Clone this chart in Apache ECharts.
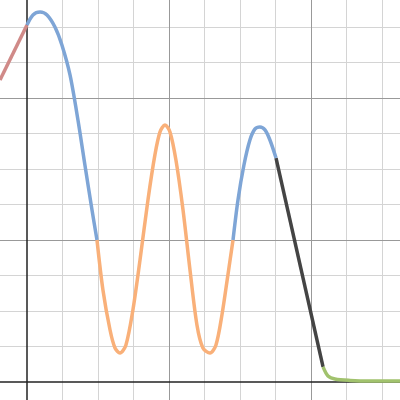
<!DOCTYPE html><html><head><meta charset="utf-8"><script src="https://cdn.jsdelivr.net/npm/echarts@6/dist/echarts.min.js"></script>
<style>html,body{margin:0;padding:0;background:#fff}#c{width:400px;height:400px}</style></head><body><div id="c"></div><script>
const redX=[-0.19,0],redY=[2.127,2.514];
const blue1X=[0,0.042,0.092,0.141,0.197,0.246,0.303,0.359,0.408,0.458,0.493];
const blue1Y=[2.514,2.585,2.606,2.585,2.500,2.373,2.162,1.845,1.528,1.211,1.0];
const orangeX=[0.493,0.535,0.585,0.620,0.655,0.697,0.746,0.796,0.852,0.901,0.937,0.972,1.007,1.049,1.099,1.148,1.197,1.239,1.289,1.331,1.373,1.415,1.451];
const orangeY=[1.0,0.648,0.366,0.239,0.204,0.261,0.507,0.859,1.282,1.599,1.761,1.810,1.761,1.563,1.211,0.789,0.401,0.239,0.204,0.261,0.472,0.754,1.0];
const blue2X=[1.451,1.486,1.528,1.570,1.606,1.641,1.676,1.711,1.754];
const blue2Y=[1.0,1.282,1.528,1.704,1.782,1.796,1.775,1.704,1.577];
const blackX=[1.754,2.085],blackY=[1.577,0.106];
const greenX=[2.085,2.120,2.169,2.275,2.415,2.627];
const greenY=[0.106,0.042,0.021,0.011,0.007,0.007];
const minorTicks=[-0.25,0.25,0.5,0.75,1.25,1.5,1.75,2.25,2.5,2.75];
const majorTicks=[1,2];
const zip=(a,b)=>a.map((v,i)=>[v,b[i]]);
function gridLines(){
  const d=[];
  const s=(c,w)=>({color:c,width:w,type:'solid'});
  minorTicks.forEach(v=>{d.push({xAxis:v,lineStyle:s('#d4d4d4',1)});d.push({yAxis:v,lineStyle:s('#d4d4d4',1)});});
  majorTicks.forEach(v=>{d.push({xAxis:v,lineStyle:s('#999',1)});d.push({yAxis:v,lineStyle:s('#999',1)});});
  d.push({xAxis:0,lineStyle:s('#222',1.5)});d.push({yAxis:0,lineStyle:s('#222',1.5)});
  return d;
}
const ln=(x,y,c)=>({type:'line',data:zip(x,y),showSymbol:false,smooth:0.3,lineStyle:{color:c,width:3.5},z:5,silent:true});
const chart=echarts.init(document.getElementById('c'));
chart.setOption({animation:false,
 grid:{left:0,right:0,top:0,bottom:0},
 xAxis:{type:'value',min:-0.19,max:2.627,show:false,splitLine:{show:false}},
 yAxis:{type:'value',min:-0.127,max:2.69,show:false,splitLine:{show:false}},
 series:[
  {type:'line',data:[],markLine:{silent:true,symbol:'none',label:{show:false},animation:false,lineStyle:{type:'solid'},data:gridLines()},z:1},
  ln(redX,redY,'#d08a88'),ln(blue1X,blue1Y,'#7ea5d6'),ln(orangeX,orangeY,'#f9b079'),
  ln(blue2X,blue2Y,'#7ea5d6'),ln(blackX,blackY,'#444444'),ln(greenX,greenY,'#a1c26d')
 ]});
</script></body></html>
